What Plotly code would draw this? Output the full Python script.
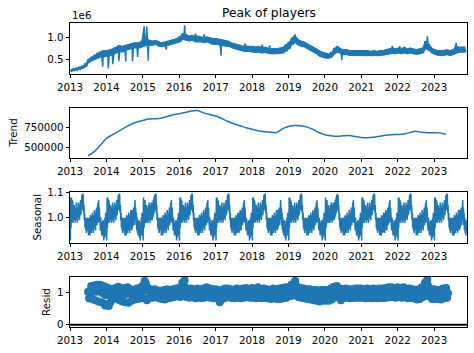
import pandas as pd
import plotly.graph_objects as go

BLUE = "#1f77b4"
FONT = "DejaVu Sans"
W, H = 474, 353

# ---------------- data ----------------
start_date = "2013-01-01"
end_date = "2023-11-27"

# Observed peak players (millions): monthly upper / lower edge of the daily band
obs_hi = [
    0.25, 0.27, 0.29, 0.31, 0.33, 0.40, 0.50, 0.55, 0.60, 0.65, 0.68, 0.70,  # 2013
    0.70, 0.72, 0.74, 0.78, 0.82, 0.80, 0.82, 0.84, 0.86, 0.88, 0.88, 0.90,  # 2014
    0.98, 1.00, 0.94, 0.92, 0.94, 0.90, 0.88, 0.90, 0.92, 0.94, 0.96, 0.98,  # 2015
    1.03, 1.10, 1.08, 1.04, 1.06, 1.02, 1.04, 1.02, 1.00, 1.02, 1.00, 0.98,  # 2016
    0.98, 0.96, 0.96, 0.94, 0.92, 0.88, 0.86, 0.84, 0.82, 0.80, 0.80, 0.80,  # 2017
    0.80, 0.78, 0.80, 0.77, 0.78, 0.76, 0.74, 0.75, 0.74, 0.76, 0.78, 0.84,  # 2018
    0.90, 1.00, 1.05, 0.96, 0.92, 0.90, 0.86, 0.82, 0.78, 0.74, 0.68, 0.66,  # 2019
    0.64, 0.62, 0.66, 0.76, 0.80, 0.74, 0.72, 0.72, 0.70, 0.70, 0.70, 0.70,  # 2020
    0.70, 0.69, 0.70, 0.68, 0.70, 0.68, 0.70, 0.70, 0.72, 0.74, 0.76, 0.74,  # 2021
    0.76, 0.74, 0.78, 0.74, 0.76, 0.74, 0.72, 0.74, 0.76, 0.92, 0.86, 0.76,  # 2022
    0.72, 0.70, 0.70, 0.70, 0.72, 0.70, 0.72, 0.80, 0.78, 0.78, 0.78,        # 2023
]
obs_lo = [
    0.21, 0.22, 0.24, 0.26, 0.28, 0.32, 0.42, 0.46, 0.49, 0.52, 0.55, 0.55,  # 2013
    0.56, 0.58, 0.60, 0.64, 0.68, 0.66, 0.70, 0.72, 0.74, 0.76, 0.76, 0.76,  # 2014
    0.80, 0.82, 0.82, 0.82, 0.84, 0.80, 0.79, 0.80, 0.82, 0.84, 0.86, 0.88,  # 2015
    0.90, 0.96, 0.94, 0.92, 0.94, 0.90, 0.90, 0.90, 0.88, 0.90, 0.86, 0.84,  # 2016
    0.84, 0.82, 0.82, 0.80, 0.80, 0.76, 0.74, 0.72, 0.70, 0.68, 0.68, 0.67,  # 2017
    0.66, 0.65, 0.66, 0.64, 0.65, 0.63, 0.62, 0.62, 0.62, 0.63, 0.64, 0.68,  # 2018
    0.74, 0.84, 0.88, 0.82, 0.80, 0.78, 0.74, 0.70, 0.66, 0.62, 0.56, 0.54,  # 2019
    0.52, 0.52, 0.54, 0.62, 0.66, 0.62, 0.60, 0.60, 0.58, 0.58, 0.58, 0.58,  # 2020
    0.58, 0.57, 0.58, 0.57, 0.58, 0.57, 0.58, 0.59, 0.60, 0.62, 0.63, 0.62,  # 2021
    0.64, 0.62, 0.64, 0.62, 0.64, 0.62, 0.61, 0.62, 0.64, 0.74, 0.70, 0.64,  # 2022
    0.60, 0.58, 0.58, 0.58, 0.60, 0.58, 0.60, 0.64, 0.66, 0.66, 0.66,        # 2023
]
# isolated spikes in the observed series (millions)
obs_spike_dates = ["2013-11-25", "2014-01-20", "2014-03-05", "2014-05-05", "2014-07-15",
                   "2014-09-20", "2014-11-10", "2015-01-15", "2015-02-10", "2015-02-25",
                   "2015-08-25", "2016-02-25", "2016-06-15", "2016-09-10", "2017-02-25",
                   "2017-10-20", "2018-04-15", "2018-06-25", "2019-03-10", "2020-06-18",
                   "2021-11-10", "2022-01-20", "2022-10-25", "2023-08-10"]
obs_spike_vals = [0.32, 0.28, 0.38, 0.45, 0.44,
                  0.45, 0.55, 1.27, 1.26, 0.46,
                  0.72, 1.29, 1.10, 1.08, 0.58,
                  0.86, 0.84, 0.82, 1.06, 0.48,
                  0.80, 0.80, 1.03, 0.88]

# Trend, every two months from 2013-07 to 2023-05
trend_vals = [
    398000, 450000, 530000,                                 # 2013
    615000, 660000, 705000, 748000, 790000, 822000,         # 2014
    840000, 858000, 862000, 868000, 890000, 912000,         # 2015
    925000, 940000, 958000, 965000, 935000, 915000,         # 2016
    895000, 865000, 830000, 800000, 775000, 750000,         # 2017
    730000, 712000, 700000, 695000, 688000, 735000,         # 2018
    765000, 778000, 775000, 760000, 730000, 690000,         # 2019
    662000, 650000, 643000, 648000, 652000, 640000,         # 2020
    628000, 625000, 630000, 642000, 655000, 662000,         # 2021
    665000, 670000, 688000, 705000, 692000, 688000,         # 2022
    688000, 685000, 668000,                                 # 2023
]

# Seasonal pattern (one year): weekly upper / lower edge of the band
seas_hi = [1.00, 1.08, 1.08, 1.07, 1.06, 1.05, 1.05, 1.04, 1.05, 1.06,
           1.04, 1.05, 1.06, 1.05, 1.06, 1.07, 1.08, 1.09, 1.095, 1.09,
           1.05, 1.02, 1.00, 1.00, 0.99, 1.00, 0.99, 1.00, 0.99, 1.01,
           1.00, 1.01, 1.02, 1.01, 1.02, 1.03, 1.02, 1.03, 1.04, 1.04,
           1.06, 1.07, 1.04, 1.02, 1.00, 0.99, 0.98, 0.99, 0.98, 0.99,
           1.00, 1.02]
seas_lo = [0.91, 0.96, 0.98, 0.98, 0.98, 0.98, 0.99, 0.98, 0.99, 0.99,
           0.98, 0.99, 1.00, 0.99, 1.00, 1.01, 1.02, 1.03, 1.04, 1.02,
           0.99, 0.96, 0.95, 0.94, 0.94, 0.95, 0.93, 0.94, 0.93, 0.95,
           0.94, 0.95, 0.95, 0.94, 0.95, 0.96, 0.95, 0.96, 0.97, 0.97,
           0.98, 0.99, 0.97, 0.95, 0.94, 0.93, 0.93, 0.92, 0.91, 0.92,
           0.93, 0.95]

# Residuals, monthly from 2013-07 to 2023-05: top / centre / bottom of the cloud
resid_hi = [
    1.02, 1.20, 1.22, 1.24, 1.24, 1.20,                                       # 2013
    1.16, 1.12, 1.10, 1.14, 1.18, 1.12, 1.14, 1.16, 1.10, 1.08, 1.12, 1.14,   # 2014
    1.22, 1.28, 1.12, 1.08, 1.10, 1.06, 1.05, 1.08, 1.10, 1.08, 1.10, 1.12,   # 2015
    1.14, 1.30, 1.16, 1.10, 1.12, 1.08, 1.12, 1.10, 1.12, 1.16, 1.12, 1.10,   # 2016
    1.10, 1.08, 1.08, 1.12, 1.12, 1.10, 1.08, 1.12, 1.10, 1.12, 1.14, 1.10,   # 2017
    1.14, 1.10, 1.16, 1.10, 1.12, 1.10, 1.08, 1.12, 1.10, 1.12, 1.14, 1.16,   # 2018
    1.16, 1.24, 1.30, 1.18, 1.14, 1.12, 1.10, 1.10, 1.08, 1.08, 1.06, 1.08,   # 2019
    1.08, 1.06, 1.12, 1.18, 1.20, 1.12, 1.10, 1.12, 1.10, 1.10, 1.12, 1.12,   # 2020
    1.12, 1.10, 1.12, 1.10, 1.12, 1.10, 1.12, 1.12, 1.14, 1.16, 1.16, 1.12,   # 2021
    1.16, 1.12, 1.16, 1.10, 1.12, 1.10, 1.08, 1.10, 1.16, 1.30, 1.22, 1.10,   # 2022
    1.10, 1.08, 1.08, 1.12, 1.14,                                             # 2023
]
resid_mid = [
    0.92, 1.04, 1.02, 1.05, 0.98, 0.92,
    0.92, 0.95, 0.98, 1.00, 0.98, 0.92, 0.95, 0.98, 0.98, 0.96, 0.98, 1.00,
    1.05, 1.08, 0.98, 0.96, 0.98, 0.96, 0.95, 0.96, 0.98, 0.98, 0.98, 1.00,
    1.00, 1.12, 1.02, 0.97, 0.98, 0.96, 0.98, 0.97, 0.98, 1.00, 0.98, 0.97,
    0.97, 0.95, 0.94, 0.97, 0.98, 0.97, 0.96, 0.97, 0.96, 0.97, 0.98, 0.97,
    0.98, 0.97, 0.99, 0.96, 0.97, 0.96, 0.95, 0.96, 0.95, 0.96, 0.97, 1.00,
    1.02, 1.08, 1.12, 1.02, 0.98, 0.97, 0.96, 0.95, 0.93, 0.92, 0.90, 0.92,
    0.92, 0.90, 0.94, 1.02, 1.04, 0.96, 0.97, 0.98, 0.97, 0.97, 0.98, 0.98,
    0.98, 0.96, 0.97, 0.96, 0.97, 0.96, 0.97, 0.97, 0.98, 1.00, 1.00, 0.98,
    1.00, 0.98, 1.00, 0.96, 0.97, 0.96, 0.94, 0.95, 1.00, 1.15, 1.06, 0.96,
    0.96, 0.95, 0.94, 0.96, 0.98,
]
resid_lo = [
    0.82, 0.80, 0.76, 0.72, 0.70, 0.66,
    0.64, 0.70, 0.80, 0.82, 0.76, 0.72, 0.70, 0.68, 0.74, 0.78, 0.80, 0.82,
    0.82, 0.76, 0.84, 0.84, 0.86, 0.82, 0.80, 0.78, 0.82, 0.84, 0.86, 0.88,
    0.86, 0.90, 0.86, 0.84, 0.86, 0.82, 0.84, 0.83, 0.84, 0.86, 0.84, 0.82,
    0.84, 0.70, 0.80, 0.84, 0.85, 0.83, 0.82, 0.84, 0.82, 0.84, 0.85, 0.84,
    0.84, 0.82, 0.84, 0.82, 0.83, 0.82, 0.80, 0.82, 0.80, 0.80, 0.82, 0.84,
    0.88, 0.90, 0.92, 0.86, 0.84, 0.82, 0.80, 0.78, 0.76, 0.74, 0.72, 0.74,
    0.74, 0.74, 0.78, 0.86, 0.86, 0.76, 0.84, 0.84, 0.82, 0.83, 0.84, 0.84,
    0.84, 0.82, 0.83, 0.82, 0.83, 0.82, 0.83, 0.83, 0.84, 0.86, 0.86, 0.84,
    0.86, 0.84, 0.86, 0.82, 0.83, 0.82, 0.78, 0.80, 0.86, 0.92, 0.88, 0.80,
    0.80, 0.80, 0.78, 0.82, 0.84,
]
resid_spike_dates = ["2013-12-20", "2014-01-25", "2015-01-20", "2016-02-25",
                     "2019-03-10", "2022-10-25"]
resid_spike_vals = [0.60, 0.58, 1.36, 1.38, 1.36, 1.40]

# ---------------- build series ----------------
end_ts = pd.Timestamp(end_date)
day = pd.Timedelta(days=1)

months_obs = pd.date_range(start_date, periods=len(obs_hi), freq="MS")
obs_pts = []
for m, hi, lo in zip(months_obs, obs_hi, obs_lo):
    obs_pts.append((m, hi * 1e6))
    obs_pts.append((m + 15 * day, lo * 1e6))
for d, v in zip(obs_spike_dates, obs_spike_vals):
    obs_pts.append((pd.Timestamp(d), v * 1e6))
obs_pts.sort(key=lambda p: p[0])
obs_x = [p[0] for p in obs_pts]
obs_y = [p[1] for p in obs_pts]
env_x = [m + 8 * day for m in months_obs]

trend_x = pd.date_range("2013-07-01", periods=len(trend_vals), freq="2MS")

seas_x, seas_y = [], []
for yr in range(2013, 2024):
    base = pd.Timestamp(year=yr, month=1, day=1)
    for w, (hi, lo) in enumerate(zip(seas_hi, seas_lo)):
        d1 = base + 7 * w * day
        d2 = d1 + 3.5 * day
        if d1 <= end_ts:
            seas_x.append(d1); seas_y.append(hi)
        if d2 <= end_ts:
            seas_x.append(d2); seas_y.append(lo)

months_res = pd.date_range("2013-07-01", periods=len(resid_hi), freq="MS")
res_x, res_y = [], []
for m, hi, md, lo in zip(months_res, resid_hi, resid_mid, resid_lo):
    res_x += [m, m + 10 * day, m + 20 * day]
    res_y += [hi, lo, md]
for d, v in zip(resid_spike_dates, resid_spike_vals):
    res_x.append(pd.Timestamp(d)); res_y.append(v)

# ---------------- figure ----------------
fig = go.Figure()
# solid band of the daily observations (between monthly upper and lower edges)
fig.add_trace(go.Scatter(x=env_x, y=[v * 1e6 for v in obs_hi], mode="lines",
                         line=dict(color=BLUE, width=1), xaxis="x", yaxis="y",
                         showlegend=False, hoverinfo="skip"))
fig.add_trace(go.Scatter(x=env_x, y=[v * 1e6 for v in obs_lo], mode="lines",
                         line=dict(color=BLUE, width=1), fill="tonexty", fillcolor=BLUE,
                         xaxis="x", yaxis="y", showlegend=False, hoverinfo="skip"))
fig.add_trace(go.Scatter(x=obs_x, y=obs_y, mode="lines", line=dict(color=BLUE, width=1.5),
                         xaxis="x", yaxis="y", showlegend=False))
fig.add_trace(go.Scatter(x=trend_x, y=trend_vals, mode="lines",
                         line=dict(color=BLUE, width=1.5, shape="spline", smoothing=0.8),
                         xaxis="x2", yaxis="y2", showlegend=False))
fig.add_trace(go.Scatter(x=seas_x, y=seas_y, mode="lines", line=dict(color=BLUE, width=1.5),
                         xaxis="x3", yaxis="y3", showlegend=False))
fig.add_trace(go.Scatter(x=[pd.Timestamp(start_date), end_ts], y=[0, 0], mode="lines",
                         line=dict(color="black", width=1.8), xaxis="x4", yaxis="y4",
                         showlegend=False))
fig.add_trace(go.Scatter(x=res_x, y=res_y, mode="markers",
                         marker=dict(color=BLUE, size=8, line=dict(width=0)),
                         xaxis="x4", yaxis="y4", showlegend=False))

xdom = [70 / W, 467 / W]
def ydom(top, bot):
    return [1 - bot / H, 1 - top / H]

xrange_ = [pd.Timestamp(start_date) - pd.Timedelta(hours=6), end_ts]
tickfont = dict(family=FONT, size=10.3, color="black")
xcommon = dict(domain=xdom, range=xrange_, type="date", dtick="M12", tick0="2013-01-01",
               tickformat="%Y", showgrid=False, zeroline=False, showline=True,
               linecolor="black", linewidth=0.8, mirror=True, ticks="outside",
               ticklen=3.5, tickwidth=0.8, tickcolor="black", tickfont=tickfont,
               automargin=False)
ycommon = dict(showgrid=False, zeroline=False, showline=True, linecolor="black",
               linewidth=0.8, mirror=True, ticks="outside", ticklen=3.5, tickwidth=0.8,
               tickcolor="black", tickfont=tickfont, automargin=False)

fig.update_layout(
    width=W, height=H, margin=dict(l=0, r=0, t=0, b=0, autoexpand=False),
    paper_bgcolor="white", plot_bgcolor="white",
    font=dict(family=FONT, color="black"),
    xaxis=dict(**xcommon, anchor="y"),
    xaxis2=dict(**xcommon, anchor="y2"),
    xaxis3=dict(**xcommon, anchor="y3"),
    xaxis4=dict(**xcommon, anchor="y4"),
    yaxis=dict(**ycommon, domain=ydom(23, 74), range=[0.148e6, 1.345e6], anchor="x",
               tickvals=[0.5e6, 1.0e6], ticktext=["0.5", "1.0"]),
    yaxis2=dict(**ycommon, domain=ydom(108, 158), range=[371000, 996000], anchor="x2",
                tickvals=[500000, 750000], ticktext=["500000", "750000"]),
    yaxis3=dict(**ycommon, domain=ydom(192.3, 243), range=[0.9, 1.1005], anchor="x3",
                tickvals=[1.0, 1.1], ticktext=["1.0", "1.1"]),
    yaxis4=dict(**ycommon, domain=ydom(277, 327), range=[-0.07, 1.48], anchor="x4",
                tickvals=[0, 1], ticktext=["0", "1"]),
    annotations=[
        dict(text="Peak of players", x=268.5 / W, y=1 - 12.7 / H, xref="paper", yref="paper",
             showarrow=False, xanchor="center", yanchor="middle",
             font=dict(family=FONT, size=12.3, color="black")),
        dict(text="1e6", x=70 / W, y=1 - 15 / H, xref="paper", yref="paper",
             showarrow=False, xanchor="left", yanchor="middle",
             font=dict(family=FONT, size=10.3, color="black")),
        dict(text="Trend", x=12.5 / W, y=1 - 133 / H, xref="paper", yref="paper",
             showarrow=False, textangle=-90, xanchor="center", yanchor="middle",
             font=dict(family=FONT, size=10.3, color="black")),
        dict(text="Seasonal", x=36 / W, y=1 - 217.5 / H, xref="paper", yref="paper",
             showarrow=False, textangle=-90, xanchor="center", yanchor="middle",
             font=dict(family=FONT, size=10.3, color="black")),
        dict(text="Resid", x=46 / W, y=1 - 302 / H, xref="paper", yref="paper",
             showarrow=False, textangle=-90, xanchor="center", yanchor="middle",
             font=dict(family=FONT, size=10.3, color="black")),
    ],
)

fig.write_html("out.html")
